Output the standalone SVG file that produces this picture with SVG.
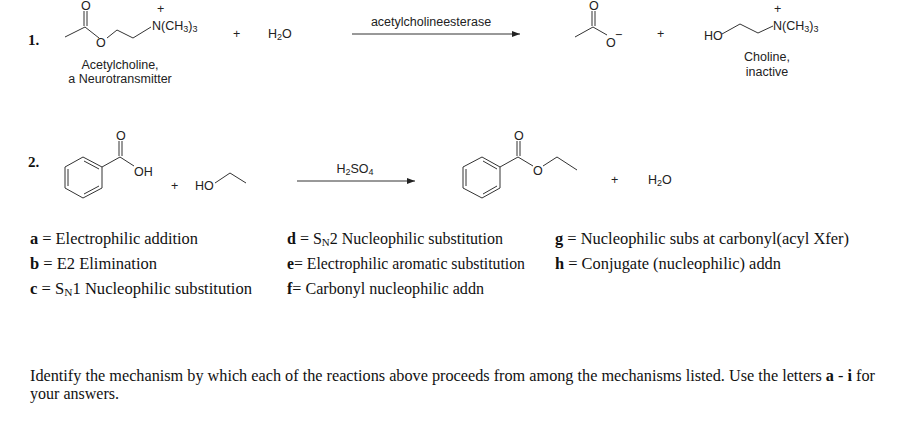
<svg xmlns="http://www.w3.org/2000/svg" width="908" height="421" viewBox="0 0 908 421">
<style>
.b{stroke:#333;stroke-width:1;fill:none}
.c{font-family:"Liberation Sans",Arial,sans-serif;font-size:12.5px;fill:#222}
.s{font-family:"Liberation Serif","Times New Roman",serif;font-size:16px;fill:#111}
.n{font-family:"Liberation Serif",serif;font-size:15px;font-weight:bold;fill:#111}
</style>
<defs><marker id="ah" markerWidth="8" markerHeight="6" refX="8" refY="3" orient="auto"><path d="M0,0L8,3L0,6z" fill="#222"/></marker></defs>
<rect width="908" height="421" fill="#fff"/>
<text class="n" x="28" y="45">1.</text>
<g id="acetylcholine">
<path class="b" d="M65,37L85,27L99,38M107,38L117,30L133,38L151,27"/>
<path class="b" d="M84,26V11M87,26V11"/>
<text class="c" x="81" y="10">O</text>
<text class="c" x="96" y="47">O</text>
<text class="c" x="157" y="13">+</text>
<text class="c" x="152" y="30">N(CH<tspan font-size="9" dy="2">3</tspan><tspan dy="-2">)</tspan><tspan font-size="9" dy="2">3</tspan></text>
<text class="c" x="120" y="69" text-anchor="middle">Acetylcholine,</text>
<text class="c" x="120" y="83" text-anchor="middle">a Neurotransmitter</text>
</g>
<text class="c" x="233" y="38">+</text>
<g id="water1"><text class="c" x="268" y="38">H<tspan font-size="9" dy="2">2</tspan><tspan dy="-2">O</tspan></text></g>
<g id="connectors">
<path class="b" d="M352,34H520" marker-end="url(#ah)"/>
<path class="b" d="M297,181H415" marker-end="url(#ah)"/>
</g>
<text class="c" x="431" y="26" text-anchor="middle">acetylcholineesterase</text>
<g id="acetate">
<path class="b" d="M575,37L593,27L607,35"/>
<path class="b" d="M592,26V11M595,26V11"/>
<text class="c" x="589" y="10">O</text>
<text class="c" x="606" y="47">O</text>
<text class="c" x="615" y="39" font-size="10">−</text>
</g>
<text class="c" x="657" y="38">+</text>
<g id="choline">
<text class="c" x="704" y="40">HO</text>
<path class="b" d="M722,34L740,24L758,33L773,26"/>
<text class="c" x="774" y="13">+</text>
<text class="c" x="773" y="30">N(CH<tspan font-size="9" dy="2">3</tspan><tspan dy="-2">)</tspan><tspan font-size="9" dy="2">3</tspan></text>
<text class="c" x="767" y="61" text-anchor="middle">Choline,</text>
<text class="c" x="767" y="76" text-anchor="middle">inactive</text>
</g>
<text class="n" x="28" y="167">2.</text>
<g id="benzoic">
<path class="b" d="M83,157L102,167L102,188L83,198L65,188L65,167Z"/>
<path class="b" d="M84,161L99,169M99,186L84,194M68,186V169"/>
<path class="b" d="M102,167L120,157L134,166M119,156V141M122,156V141"/>
<text class="c" x="116" y="140">O</text>
<text class="c" x="134" y="176">OH</text>
</g>
<text class="c" x="171" y="190">+</text>
<g id="ethanol">
<text class="c" x="195" y="190">HO</text>
<path class="b" d="M215,183L230,173L246,183"/>
</g>
<text class="c" x="355" y="173" text-anchor="middle">H<tspan font-size="9" dy="2">2</tspan><tspan dy="-2">SO</tspan><tspan font-size="9" dy="2">4</tspan></text>
<g id="ester">
<path class="b" d="M482,157L500,167L500,188L482,198L463,188L463,167Z"/>
<path class="b" d="M483,161L497,169M497,186L483,194M466,186V169"/>
<path class="b" d="M500,167L518,157L533,166M543,166L557,157L577,170M517,156V141M520,156V141"/>
<text class="c" x="514" y="140">O</text>
<text class="c" x="533" y="175">O</text>
</g>
<text class="c" x="611" y="184">+</text>
<g id="water2"><text class="c" x="648" y="184">H<tspan font-size="9" dy="2">2</tspan><tspan dy="-2">O</tspan></text></g>
<text class="s" x="30" y="244" textLength="168" lengthAdjust="spacingAndGlyphs"><tspan font-weight="bold">a</tspan> = Electrophilic addition</text>
<text class="s" x="30" y="269" textLength="127" lengthAdjust="spacingAndGlyphs"><tspan font-weight="bold">b</tspan> = E2 Elimination</text>
<text class="s" x="30" y="294" textLength="222" lengthAdjust="spacingAndGlyphs"><tspan font-weight="bold">c</tspan> = S<tspan font-size="11" dy="2">N</tspan><tspan dy="-2">1 Nucleophilic substitution</tspan></text>
<text class="s" x="287" y="244" textLength="216" lengthAdjust="spacingAndGlyphs"><tspan font-weight="bold">d</tspan> = S<tspan font-size="11" dy="2">N</tspan><tspan dy="-2">2 Nucleophilic substitution</tspan></text>
<text class="s" x="287" y="269" textLength="238" lengthAdjust="spacingAndGlyphs"><tspan font-weight="bold">e</tspan>= Electrophilic aromatic substitution</text>
<text class="s" x="287" y="294" textLength="197" lengthAdjust="spacingAndGlyphs"><tspan font-weight="bold">f</tspan>= Carbonyl nucleophilic addn</text>
<text class="s" x="555" y="244" textLength="294" lengthAdjust="spacingAndGlyphs"><tspan font-weight="bold">g</tspan> = Nucleophilic subs at carbonyl(acyl Xfer)</text>
<text class="s" x="555" y="269" textLength="226" lengthAdjust="spacingAndGlyphs"><tspan font-weight="bold">h</tspan> = Conjugate (nucleophilic) addn</text>
<text class="s" x="30" y="381" textLength="845" lengthAdjust="spacingAndGlyphs">Identify the mechanism by which each of the reactions above proceeds from among the mechanisms listed. Use the letters <tspan font-weight="bold">a</tspan> - <tspan font-weight="bold">i</tspan> for</text>
<text class="s" x="30" y="399" textLength="89" lengthAdjust="spacingAndGlyphs">your answers.</text>
</svg>
